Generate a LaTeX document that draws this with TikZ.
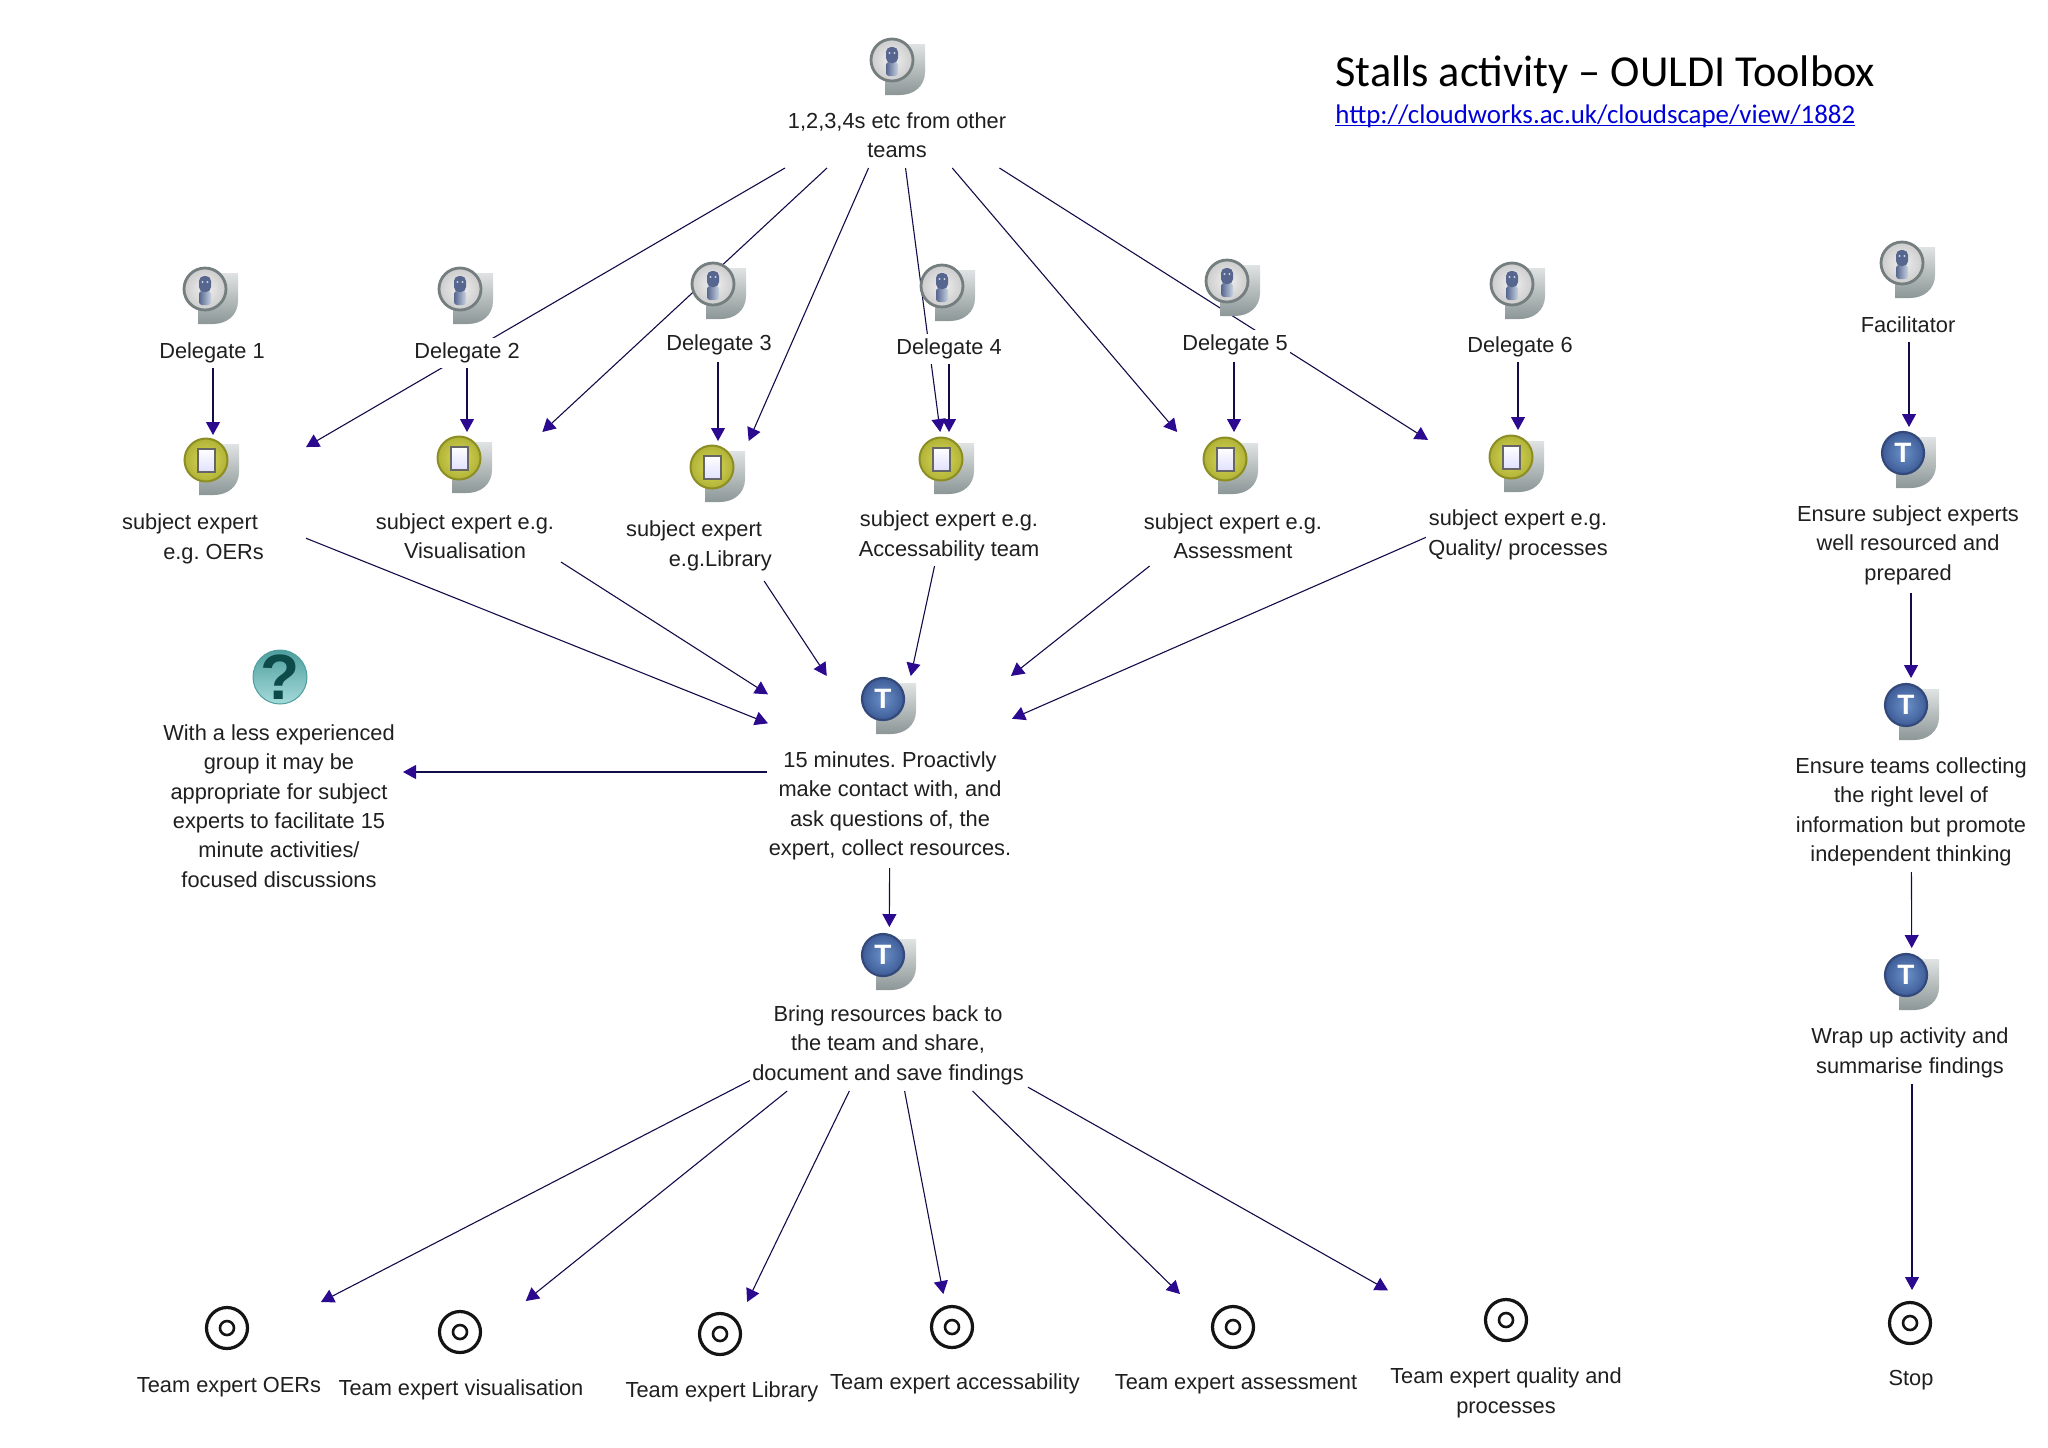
\documentclass[tikz,border=0pt]{standalone}
\usepackage{fontspec}
\setmainfont{Liberation Sans}
\newfontfamily\titlefont{Carlito}
\usetikzlibrary{arrows.meta,backgrounds}

\definecolor{flowline}{HTML}{120C48}
\definecolor{flowtip}{HTML}{2B0A8F}
\definecolor{platelight}{HTML}{E0E3E3}
\definecolor{platedark}{HTML}{8C9696}
\definecolor{ringgrey}{HTML}{747E7E}
\definecolor{figdark}{HTML}{56668E}
\definecolor{figlight}{HTML}{C6D2E2}
\definecolor{doclight}{HTML}{DADA5A}
\definecolor{docdark}{HTML}{B0B236}
\definecolor{docring}{HTML}{8C8E24}
\definecolor{tasklight}{HTML}{6A90C6}
\definecolor{taskdark}{HTML}{3E5C98}
\definecolor{taskring}{HTML}{33497A}
\definecolor{querytop}{HTML}{4E9E9E}
\definecolor{querylow}{HTML}{A5DADA}
\definecolor{queryink}{HTML}{0D4A4A}

\tikzset{
    x=0.5pt, y=-0.5pt,
    % invisible box round an icon and its label, connectors stop on its border
    hub/.style={rectangle, inner sep=0pt, outer sep=0pt},
    lbl/.style={font=\fontsize{10.9}{14.7}\selectfont\frenchspacing, text=black!88, align=center,
        fill=white, inner xsep=1pt, inner ysep=2.5pt, yshift=-1.5pt},
    flow/.style={draw=flowline, line width=0.55pt,
        -{Triangle[length=6.5pt,width=7pt,color=flowtip]}},
    % grey plate behind the round icons
    plate/.pic={
        \path[top color=platelight, bottom color=platedark]
            (0,-16) -- (33,-16) -- (33,12) .. controls (33,26) and (22,35) .. (8,35)
            -- (-7,35) -- (-7,10) -- cycle;
    },
    person/.pic={
        \pic {plate};
        \draw[draw=ringgrey, line width=1.4pt, inner color=white!94!black, outer color=black!20]
            (0,0) circle[radius=21];
        \path[rounded corners=1.5pt, left color=figdark, right color=figlight]
            (-6,2) rectangle (6,16);
        \path[rounded corners=2.5pt, fill=figdark] (-6,-13) rectangle (6,3);
        \path[fill=figlight] (-2.5,-7) circle[radius=1.2] (2.5,-7) circle[radius=1.2];
    },
    docicon/.pic={
        \pic {plate};
        \draw[draw=docring, line width=1pt, inner color=doclight, outer color=docdark]
            (0,0) circle[radius=21.5];
        \draw[draw=black!60, line width=1pt, top color=white, bottom color=blue!12!white]
            (-8,-11) rectangle (9,12);
    },
    taskicon/.pic={
        \pic {plate};
        \draw[draw=taskring, line width=1.1pt, inner color=tasklight, outer color=taskdark]
            (0,0) circle[radius=21];
        \node[inner sep=0pt, text=white, font=\fontsize{14}{14}\selectfont\bfseries] (-glyph) at (0,0) {T};
    },
    goal/.pic={
        \draw[black!92, line width=1.6pt] (0,0) circle[radius=20.5];
        \draw[black!92, line width=1.3pt] (0,0) circle[radius=7];
    },
    queryicon/.pic={
        \draw[draw=querytop, line width=0.5pt, top color=querytop, bottom color=querylow]
            (0,0) circle[radius=27];
        \node[inner sep=0pt, text=queryink, font=\fontsize{32}{32}\selectfont\bfseries] (-glyph) at (0,0) {?};
    },
}

\begin{document}
\begin{tikzpicture}

\useasboundingbox (0,0) rectangle (2048,1447);

% title
\node[anchor=base west, inner sep=0pt, font=\titlefont\fontsize{22.15}{26}\selectfont] (title) at (1335,86)
    {Stalls activity – OULDI Toolbox};
\node[anchor=base west, inner sep=0pt, text=blue!85!black, font=\titlefont\fontsize{13.45}{16}\selectfont] (link) at (1335,123)
    {\underline{\smash{http://cloudworks.ac.uk/cloudscape/view/1882}}};

% ==================== BOXES ====================
\foreach \n/\x/\y/\w/\h in {
    top/897/103/112/65,
    d1/213/325/60/43, d2/467/325/60/43, d3/718/319/60/43,
    d4/949/321/60/43, d5/1234/319/60/43, d6/1518/319/60/43,
    s1/213/501/93/66, s2/467/502/94/70, s3/718/511/90/70,
    s4/949/499/90/67, s5/1234/499/90/67, s6/1518/497/90/67,
    main/890/772/122/96, ask/279/772/124/122, back/889/1009/139/82,
    e1/228/1350/97/48, e2/460/1354/90/53, e3/722/1354/90/52,
    e4/954/1350/90/56, e5/1235/1348/90/54, e6/1505/1356/117/68,
    f0/1909/297/60/45, f1/1909/510/100/83, f2/1911/775/100/97,
    f3/1912/1016/100/68, stop/1912/1350/60/60}
    \node[hub, minimum width=\w pt, minimum height=\h pt] (\n) at (\x,\y) {};

% ==================== ICONS ====================
\pic (topicon) at (892,60) {person};
\foreach \n/\x/\y in {d1/205/289, d2/460/289, d3/713/284, d4/942/286, d5/1227/281, d6/1512/284, f0/1902/263}
    \pic (\n icon) at (\x,\y) {person};
\foreach \n/\x/\y in {s1/206/460, s2/459/458, s3/712/467, s4/941/459, s5/1225/459, s6/1511/457}
    \pic (\n icon) at (\x,\y) {docicon};
\foreach \n/\x/\y in {main/883/699, back/883/955, f1/1903/453, f2/1906/705, f3/1906/975}
    \pic (\n icon) at (\x,\y) {taskicon};
\pic (askicon) at (280,677) {queryicon};
\foreach \n/\x/\y in {e1/227/1328, e2/460/1332, e3/720/1334, e4/952/1327, e5/1233/1327, e6/1506/1320, stop/1910/1323}
    \pic (\n icon) at (\x,\y) {goal};

% ==================== LABELS ====================
\node[lbl] (toptxt) at (897,132) {1,2,3,4s etc from other\\teams};
\node[lbl] (d1txt) at (212,350) {Delegate 1};
\node[lbl] (d2txt) at (467,350) {Delegate 2};
\node[lbl] (d3txt) at (719,342) {Delegate 3};
\node[lbl] (d4txt) at (949,346) {Delegate 4};
\node[lbl] (d5txt) at (1235,342) {Delegate 5};
\node[lbl] (d6txt) at (1520,344) {Delegate 6};
\node[lbl, align=right] (s1txt) at (193,536) {subject expert\hspace*{3pt}\\e.g. OERs};
\node[lbl] (s2txt) at (465,533) {subject expert e.g.\\Visualisation};
\node[lbl, align=right] (s3txt) at (699,543) {subject expert\hspace*{5pt}\\e.g.Library};
\node[lbl] (s4txt) at (949,533) {subject expert e.g.\\Accessability team};
\node[lbl] (s5txt) at (1233,533) {subject expert e.g.\\Assessment};
\node[lbl] (s6txt) at (1518,532) {subject expert e.g.\\Quality/ processes};
\node[lbl] (asktxt) at (279,803) {With a less experienced\\group it may be\\appropriate for subject\\experts to facilitate 15\\minute activities/\\focused discussions};
\node[lbl] (maintxt) at (890,803) {15 minutes. Proactivly\\make contact with, and\\ask questions of, the\\expert, collect resources.};
\node[lbl] (backtxt) at (888,1042) {Bring resources back to\\the team and share,\\document and save findings};
\node[lbl] (e1txt) at (229,1384) {Team expert OERs};
\node[lbl] (e2txt) at (461,1387) {Team expert visualisation};
\node[lbl] (e3txt) at (722,1389) {Team expert Library};
\node[lbl] (e4txt) at (955,1381) {Team expert accessability};
\node[lbl] (e5txt) at (1236,1381) {Team expert assessment};
\node[lbl] (e6txt) at (1506,1390) {Team expert quality and\\processes};
\node[lbl] (f0txt) at (1908,322) {Facilitator};
\node[lbl] (f1txt) at (1908,542) {Ensure subject experts\\well resourced and\\prepared};
\node[lbl] (f2txt) at (1911,809) {Ensure teams collecting\\the right level of\\information but promote\\independent thinking};
\node[lbl] (f3txt) at (1910,1050) {Wrap up activity and\\summarise findings};
\node[lbl] (stoptxt) at (1911,1377) {Stop};

% ==================== CONNECTIONS ====================
\begin{scope}[on background layer]
    \foreach \a/\b in {top/s1, top/s2, top/s3, top/s4, top/s5, top/s6,
        d1/s1, d2/s2, d3/s3, d4/s4, d5/s5, d6/s6,
        s1/main, s2/main, s3/main, s4/main, s5/main, s6/main,
        main/ask, main/back,
        back/e1, back/e2, back/e3, back/e4, back/e5, back/e6,
        f0/f1, f2/f3, f3/stop}
        \draw[flow] (\a) -- (\b);
    % the facilitator column is not quite straight
    \draw[flow] (f2 |- f1.south) -- (f2);
\end{scope}

\end{tikzpicture}
\end{document}
